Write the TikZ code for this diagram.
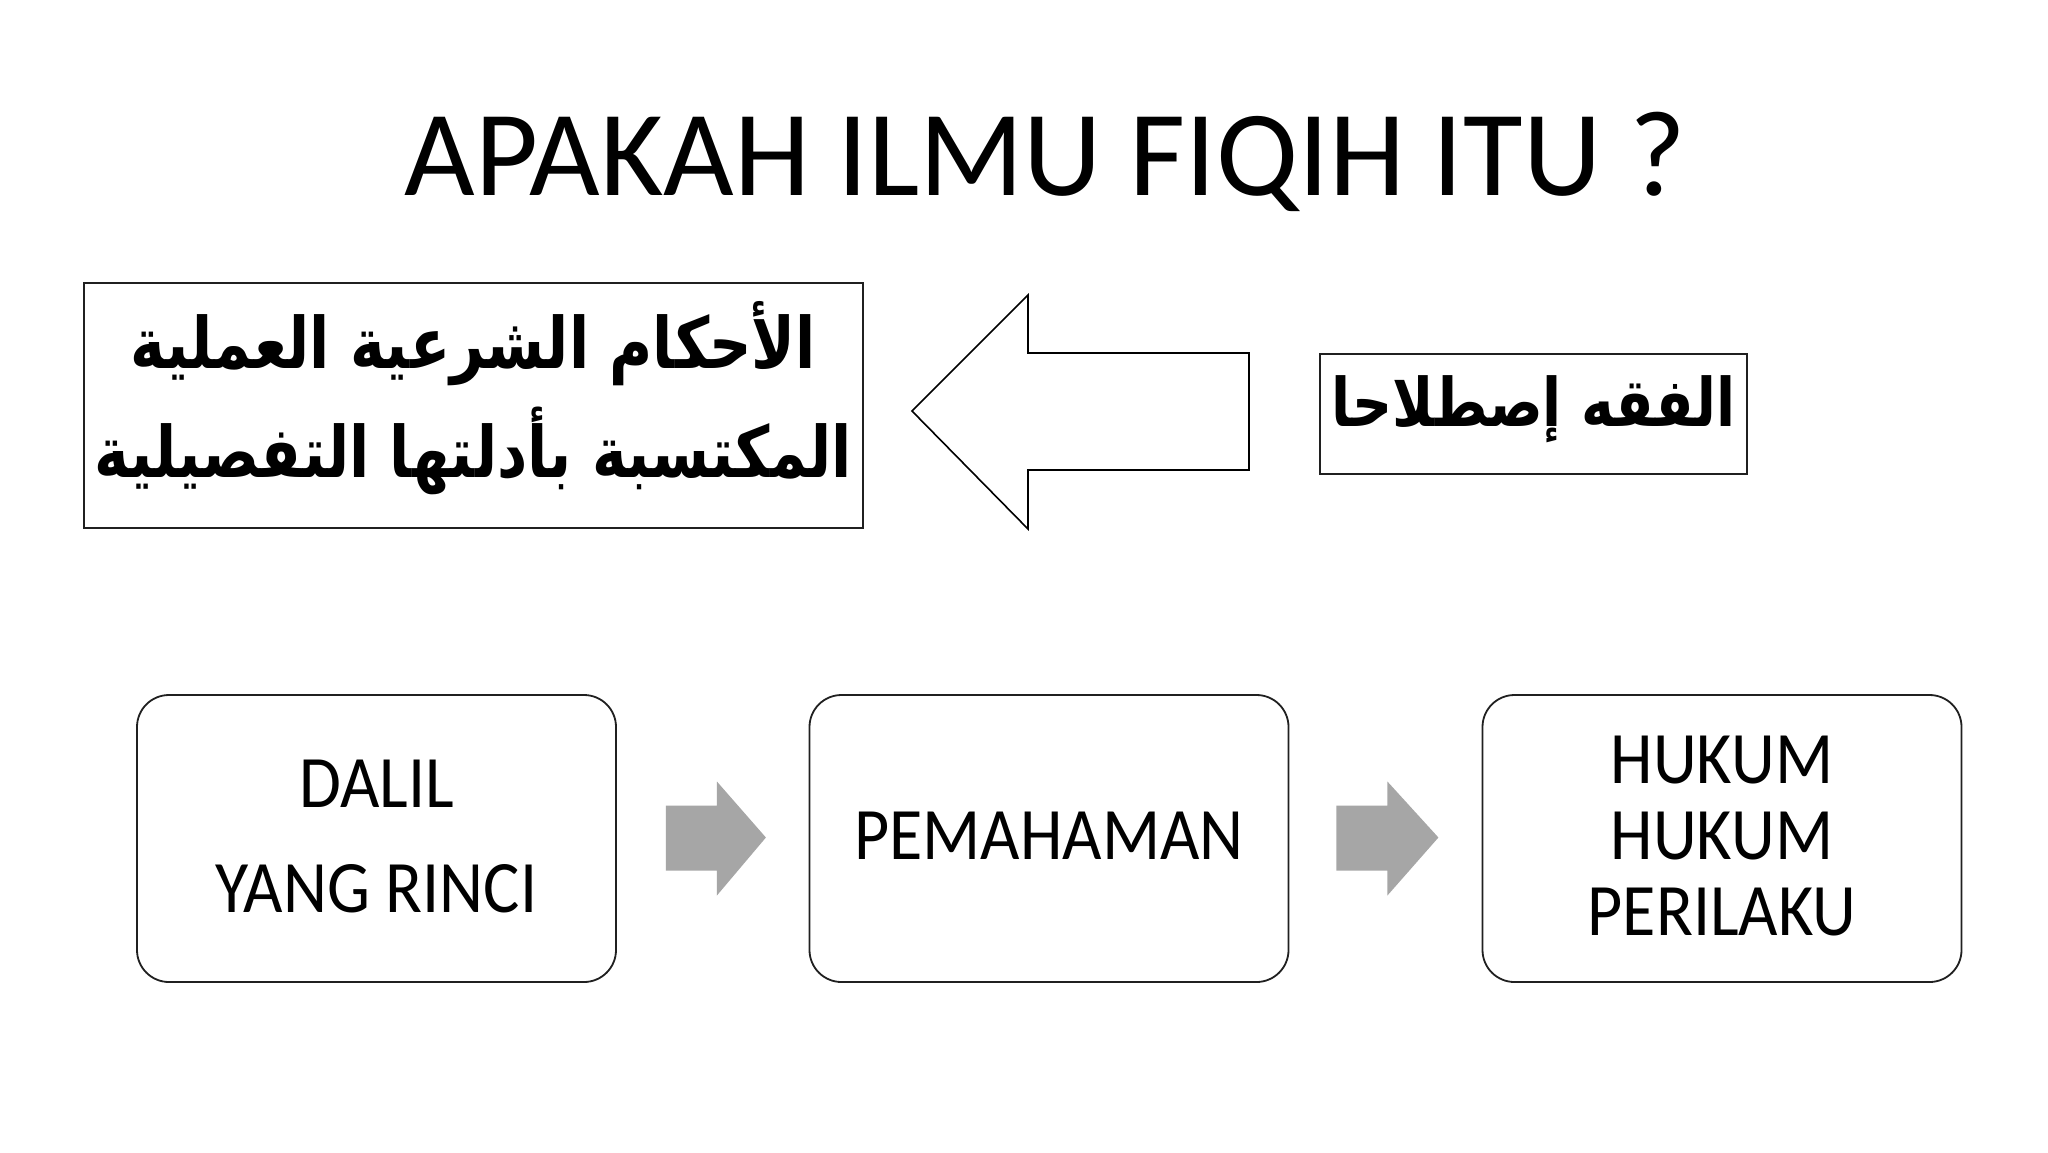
\documentclass[tikz,border=0pt]{standalone}
\usepackage{fontspec}
\setmainfont{Carlito}
\newfontfamily\arabicfont[Script=Arabic,FakeStretch=0.83]{DejaVu Sans}
\newfontfamily\flowfont[FakeStretch=0.92]{Carlito}
\TeXXeTstate=1
\usetikzlibrary{calc}
\definecolor{arrowgray}{HTML}{A6A6A6}
\definecolor{boxline}{HTML}{202020}
\tikzset{
  sqbox/.style={draw=boxline, line width=1.6pt, fill=white, inner sep=0pt},
  rbox/.style={draw=boxline, line width=1.8pt, rounded corners=32pt, fill=white, inner sep=0pt, minimum width=479pt, minimum height=287pt, align=center},
  flowtext/.style={font=\flowfont\fontsize{74}{76}\selectfont},
  arabtext/.style={font=\arabicfont\bfseries\fontsize{71}{76}\selectfont},
  arabterm/.style={font=\arabicfont\bfseries\fontsize{67}{72}\selectfont},
  bigarrow/.style={draw=black, line width=1.6pt, fill=white, line join=miter},
  grayarrow/.style={fill=arrowgray, draw=none},
}
\begin{document}
\begin{tikzpicture}[x=1pt,y=-1pt]
\useasboundingbox (0,0) rectangle (2048,1152);
\fill[white] (0,0) rectangle (2048,1152);
% title
\node[font=\fontsize{122}{130}\selectfont, anchor=base] (title) at (1045,195) {APAKAH ILMU FIQIH ITU ?};
% left box
\node[sqbox, minimum width=779pt, minimum height=245pt] (def) at (473.5,405.5) {};
\node[arabtext] (defl1) at (473.5,344) {\beginR الأحكام الشرعية العملية\endR};
\node[arabtext] (defl2) at (473.5,451) {\beginR المكتسبة بأدلتها التفصيلية\endR};
% right box
\node[sqbox, minimum width=427pt, minimum height=120pt] (term) at (1533.5,414) {};
\node[arabterm] (terml) at (1533.5,409) {\beginR الفقه إصطلاحا\endR};
% big hollow arrow from term to def
\coordinate (tip) at (912,411);
\draw[bigarrow] (tip) -- (1028,295) -- (1028,353) -- (1249,353) -- (1249,470) -- (1028,470) -- (1028,529) -- cycle;
% bottom boxes
\node[rbox] (b1) at (376.5,838.5) {};
\node[rbox] (b2) at (1049,838.5) {};
\node[rbox] (b3) at (1722,838.5) {};
\node[flowtext] (t1a) at (376.5,784) {DALIL};
\node[flowtext] (t1b) at (376.5,889) {YANG RINCI};
\node[flowtext] (t2) at (1049,836) {PEMAHAMAN};
\node[flowtext] (t3a) at (1722,760) {HUKUM};
\node[flowtext] (t3b) at (1722,836) {HUKUM};
\node[flowtext] (t3c) at (1722,912) {PERILAKU};
% gray block arrows
\fill[grayarrow] ($(b1.east)+(49,-33)$) -- ++(51,0) -- ++(0,-24) -- ($(b1.east)+(149,-1)$) -- ($(b1.east)+(100,57)$) -- ++(0,-25) -- ($(b1.east)+(49,32)$) -- cycle;
\fill[grayarrow] ($(b2.east)+(47,-33)$) -- ++(51,0) -- ++(0,-24) -- ($(b2.east)+(149,-1)$) -- ($(b2.east)+(98,57)$) -- ++(0,-25) -- ($(b2.east)+(47,32)$) -- cycle;
\end{tikzpicture}
\end{document}
